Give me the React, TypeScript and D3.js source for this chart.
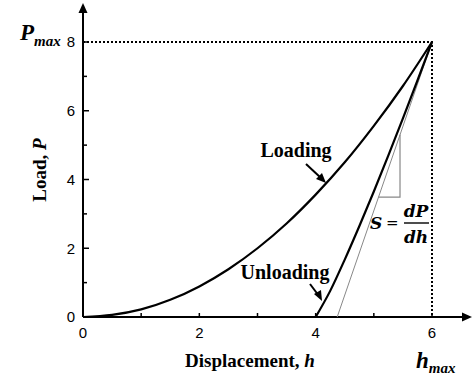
import React from "react";
import * as d3 from "d3";

const xTicks = [0, 2, 4, 6];
const xMinorTicks = [1, 3, 5];
const yTicks = [0, 2, 4, 6, 8];
const yMinorTicks = [1, 3, 5, 7];

const loadingH = [0, 0.5, 1, 1.5, 2, 2.5, 3, 3.5, 4, 4.5, 5, 5.5, 6];
const loadingP = [0, 0.06, 0.22, 0.5, 0.89, 1.39, 2.0, 2.72, 3.56, 4.5, 5.56, 6.72, 8];

const unloadingH = [4, 4.25, 4.5, 4.75, 5, 5.25, 5.5, 5.75, 6];
const unloadingP = [0, 0.76, 1.67, 2.64, 3.65, 4.7, 5.78, 6.88, 8];

const tangentH = [4.37, 6];
const tangentP = [0, 8];

const triangleH = [5.08, 5.45, 5.45];
const triangleP = [3.49, 3.49, 5.3];

const hMax = 6;
const pMax = 8;

export default function App() {
  const W = 474, H = 379;
  const x = d3.scaleLinear().domain([0, 6]).range([83, 432]);
  const y = d3.scaleLinear().domain([0, 8]).range([317, 42]);

  const line = d3
    .line<[number, number]>()
    .x((d) => x(d[0]))
    .y((d) => y(d[1]))
    .curve(d3.curveMonotoneX);
  const straight = d3
    .line<[number, number]>()
    .x((d) => x(d[0]))
    .y((d) => y(d[1]));

  const loading = loadingH.map((h, i) => [h, loadingP[i]] as [number, number]);
  const unloading = unloadingH.map((h, i) => [h, unloadingP[i]] as [number, number]);
  const tangent = tangentH.map((h, i) => [h, tangentP[i]] as [number, number]);
  const tri = triangleH.map((h, i) => [h, triangleP[i]] as [number, number]);

  const x0 = x(0), y0 = y(0);
  const sans = "'Liberation Sans', Arial, sans-serif";
  const serif = "'Liberation Serif', 'Times New Roman', serif";

  return (
    <svg width={W} height={H} style={{ position: "absolute", left: 0, top: 0, background: "#fff" }}>
      {/* dotted max lines */}
      <path
        d={`M${x0},${y(pMax)}H${x(hMax)}V${y0}`}
        fill="none"
        stroke="#000"
        strokeWidth={2}
        strokeDasharray="2,2"
      />
      {/* axes */}
      <line x1={x0} y1={y0} x2={x0} y2={10} stroke="#000" strokeWidth={2} />
      <path d={`M${x0},3L${x0 - 4.5},13L${x0 + 4.5},13Z`} fill="#000" />
      <line x1={x0} y1={y0} x2={464} y2={y0} stroke="#000" strokeWidth={2} />
      <path d={`M472,${y0}L462,${y0 - 4.5}L462,${y0 + 4.5}Z`} fill="#000" />

      {/* y ticks */}
      {yTicks.map((t) => (
        <g key={"y" + t}>
          <line x1={x0} x2={x0 + 6} y1={y(t)} y2={y(t)} stroke="#000" strokeWidth={1.5} />
          <text x={x0 - 8} y={y(t)} dy="0.35em" textAnchor="end" fontFamily={sans} fontSize={15}>
            {t}
          </text>
        </g>
      ))}
      {yMinorTicks.map((t) => (
        <line key={"ym" + t} x1={x0} x2={x0 + 4} y1={y(t)} y2={y(t)} stroke="#000" strokeWidth={1.5} />
      ))}
      {/* x ticks */}
      {xTicks.map((t) => (
        <g key={"x" + t}>
          <line x1={x(t)} x2={x(t)} y1={y0} y2={y0 - 4} stroke="#000" strokeWidth={1.5} />
          <text x={x(t)} y={y0 + 21} textAnchor="middle" fontFamily={sans} fontSize={15}>
            {t}
          </text>
        </g>
      ))}
      {xMinorTicks.map((t) => (
        <line key={"xm" + t} x1={x(t)} x2={x(t)} y1={y0} y2={y0 - 4} stroke="#000" strokeWidth={1.5} />
      ))}

      {/* tangent and triangle */}
      <path d={straight(tangent) || ""} fill="none" stroke="#888" strokeWidth={1} />
      <path d={straight(tri) || ""} fill="none" stroke="#888" strokeWidth={1.2} />

      {/* curves */}
      <path d={line(loading) || ""} fill="none" stroke="#000" strokeWidth={2.2} />
      <path d={line(unloading) || ""} fill="none" stroke="#000" strokeWidth={2.2} />

      {/* labels */}
      <text x={296} y={157} textAnchor="middle" fontFamily={serif} fontWeight="bold" fontSize={20}>
        Loading
      </text>
      <line x1={306} y1={164} x2={321} y2={178} stroke="#000" strokeWidth={2} />
      <path d="M326,183L316,179L322,173Z" fill="#000" />

      <text x={285} y={279} textAnchor="middle" fontFamily={serif} fontWeight="bold" fontSize={20}>
        Unloading
      </text>
      <line x1={310} y1={284} x2={319} y2={296} stroke="#000" strokeWidth={2} />
      <path d="M322,301L314,294L321,290Z" fill="#000" />

      {/* formula */}
      <g fontFamily="'DejaVu Serif', serif" fontWeight="bold" fontStyle="italic" fontSize={17}>
        <text x={370} y={229}>S</text>
        <text x={386} y={228} fontStyle="normal" fontWeight="normal" fontSize={15}>=</text>
        <text x={416} y={217} textAnchor="middle">dP</text>
        <line x1={404} x2={429} y1={223} y2={223} stroke="#000" strokeWidth={1.4} />
        <text x={416} y={243} textAnchor="middle">dh</text>
      </g>

      {/* axis titles */}
      <text
        transform={`translate(46,170) rotate(-90)`}
        textAnchor="middle"
        fontFamily={serif}
        fontWeight="bold"
        fontSize={19}
      >
        Load, <tspan fontStyle="italic">P</tspan>
      </text>
      <text x={250} y={367} textAnchor="middle" fontFamily={serif} fontWeight="bold" fontSize={19}>
        Displacement, <tspan fontStyle="italic">h</tspan>
      </text>

      <text x={20} y={40} fontFamily={serif} fontWeight="bold" fontStyle="italic" fontSize={23}>
        P<tspan fontSize={15} dy={6}>max</tspan>
      </text>
      <text x={416} y={368} fontFamily={serif} fontWeight="bold" fontStyle="italic" fontSize={23}>
        h<tspan fontSize={15} dy={5}>max</tspan>
      </text>
    </svg>
  );
}
